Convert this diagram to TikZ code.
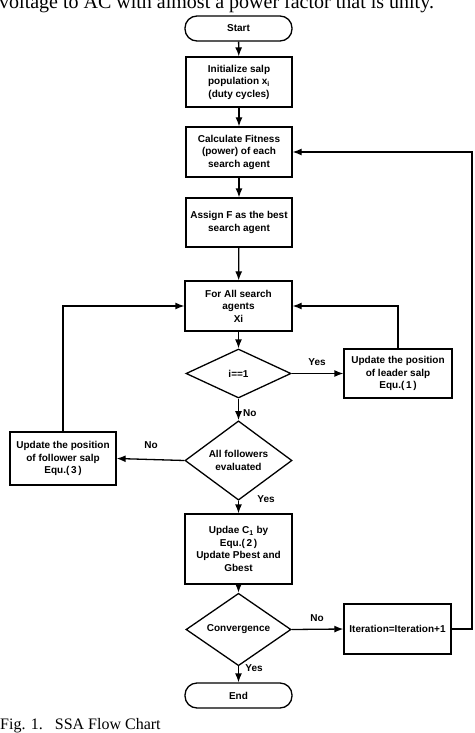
\documentclass[tikz,border=0pt]{standalone}
\usepackage{fontspec}
\setmainfont{Liberation Serif}
\newfontfamily\boxfont{Liberation Sans}
\usetikzlibrary{arrows.meta,shapes.geometric}
\tikzset{
  box/.style={draw, line width=1.3pt, rectangle, inner sep=1pt, align=center,
    font=\boxfont\bfseries\fontsize{10}{12.5}\selectfont},
  term/.style={box, rounded corners=12pt},
  dec/.style={draw, line width=1.3pt, diamond, inner sep=0pt, align=center,
    font=\boxfont\bfseries\fontsize{10}{12.5}\selectfont},
  conn/.style={line width=1.3pt, -{Latex[length=9pt,width=7pt]}},
  lbl/.style={font=\boxfont\bfseries\fontsize{10}{12}\selectfont, inner sep=0pt},
  serif/.style={inner sep=0pt, font=\fontsize{20}{24}\selectfont}
}
\begin{document}
\begin{tikzpicture}[x=1pt,y=-1pt]
\useasboundingbox[fill=white] (0,0) rectangle (474,733);
\node[serif, anchor=base west] (toptext) at (-1,8.5) {voltage to AC with almost a power factor that is unity.};
\node[inner sep=0pt, anchor=base west, font=\fontsize{16}{18}\selectfont] (caption) at (0,729) {Fig. 1.\hspace{12pt}SSA Flow Chart};

\node[term, minimum width=107pt, minimum height=25pt] (start) at (238.5,28.5) {Start};
\node[box, minimum width=106pt, minimum height=50pt] (init) at (239,82) {Initialize salp\\population x\textsubscript{i}\\(duty cycles)};
\node[box, minimum width=106pt, minimum height=50pt] (calc) at (239,152) {Calculate Fitness\\(power) of each\\search agent};
\node[box, minimum width=106pt, minimum height=49pt] (assign) at (239,222.5) {Assign F as the best\\search agent};
\node[box, minimum width=107pt, minimum height=50pt] (forall) at (238.5,306) {For All search\\agents\\Xi};
\node[dec, minimum width=105pt, minimum height=49pt] (d1) at (238.5,373.5) {i==1};
\node[box, minimum width=108pt, minimum height=49pt] (leader) at (398,373.5) {Update the position\\of leader salp\\Equ.(\,1\,)};
\node[dec, minimum width=107pt, minimum height=67pt] (d2) at (238.5,460.5) {All followers\\evaluated};
\node[box, minimum width=106pt, minimum height=53pt] (follower) at (63,458.5) {Update the position\\of follower salp\\Equ.(\,3\,)};
\node[box, minimum width=107pt, minimum height=70pt] (updae) at (238.5,549) {Updae C\textsubscript{1} by\\Equ.(\,2\,)\\Update Pbest and\\Gbest};
\node[dec, minimum width=105pt, minimum height=49pt] (conv) at (238.5,629.5) {Convergence};
\node[box, minimum width=107pt, minimum height=50pt] (iter) at (397.5,629) {Iteration=Iteration+1};
\node[term, minimum width=107pt, minimum height=25pt] (end) at (238.5,695.5) {End};

\draw[conn] (start) -- (init);
\draw[conn] (init) -- (calc);
\draw[conn] (calc) -- (assign);
\draw[conn] (assign) -- (forall);
\draw[conn] (forall) -- (d1);
\draw[conn] (d1.east) -- (leader.west);
\node[lbl] (yes1) at (317,362) {Yes};
\draw[conn] (leader.north) |- (forall.east);
\draw[conn] (d1.south) -- (d2.north);
\node[lbl, anchor=west] (no1) at (243,413) {No};
\draw[conn] (d2.west) -- (follower.east);
\node[lbl] (no2) at (151,445) {No};
\draw[conn] (follower.north) |- (forall.west);
\draw[conn] (d2.south) -- (updae.north);
\node[lbl] (yes2) at (266,499) {Yes};
\draw[conn] (updae) -- (conv);
\draw[conn] (conv.east) -- (iter.west);
\node[lbl] (no3) at (317,618) {No};
\draw[conn] (conv.south) -- (end.north);
\node[lbl] (yes3) at (254,668) {Yes};
\coordinate (rt) at (472,629);
\draw[conn] (iter.east) -- (rt) |- (calc.east);
\end{tikzpicture}
\end{document}
